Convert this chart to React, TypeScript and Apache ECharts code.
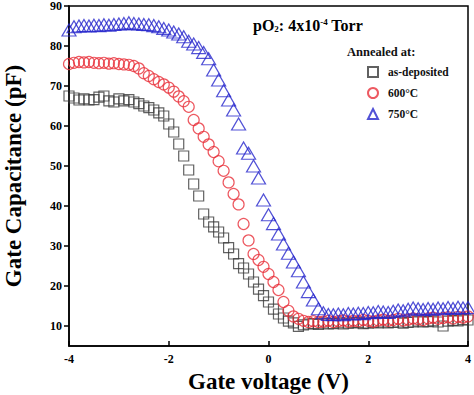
import React, { useEffect, useRef } from 'react';
import * as echarts from 'echarts';

const voltage = [
  -4.0, -3.9, -3.8, -3.7, -3.6, -3.5, -3.4, -3.3, -3.2, -3.1,
  -3.0, -2.9, -2.8, -2.7, -2.6, -2.5, -2.4, -2.3, -2.2, -2.1,
  -2.0, -1.9, -1.8, -1.7, -1.6, -1.5, -1.4, -1.3, -1.2, -1.1,
  -1.0, -0.9, -0.8, -0.7, -0.6, -0.5, -0.4, -0.3, -0.2, -0.1,
  0.0, 0.1, 0.2, 0.3, 0.4, 0.5, 0.6, 0.7, 0.8, 0.9,
  1.0, 1.1, 1.2, 1.3, 1.4, 1.5, 1.6, 1.7, 1.8, 1.9,
  2.0, 2.1, 2.2, 2.3, 2.4, 2.5, 2.6, 2.7, 2.8, 2.9,
  3.0, 3.1, 3.2, 3.3, 3.4, 3.5, 3.6, 3.7, 3.8, 3.9,
  4.0,
];

const asDeposited = [
  67.5, 67.0, 66.5, 66.8, 66.5, 66.6, 67.2, 67.5, 66.3, 66.0,
  66.8, 66.3, 66.6, 66.0, 65.6, 65.0, 64.6, 64.0, 63.3, 62.5,
  60.5, 58.5, 55.5, 52.5, 49.0, 45.5, 42.5, 38.0, 36.0, 34.8,
  33.5, 32.0, 29.6, 28.0, 25.6, 24.5, 23.0, 21.0, 19.2, 17.6,
  16.0, 14.2, 13.0, 12.0, 11.2, 10.8, 9.9, 10.3, 10.5, 10.6,
  10.4, 10.7, 10.5, 10.6, 10.8, 10.5, 10.7, 10.8, 10.9, 10.6,
  10.7, 10.9, 10.8, 11.0, 10.8, 10.9, 11.0, 10.7, 10.9, 11.0,
  11.2, 11.0, 11.1, 11.3, 11.0, 10.0, 11.2, 11.4, 11.3, 11.6,
  11.5,
];

const annealed600 = [
  75.5, 75.8, 76.0, 75.9, 76.0, 75.8, 75.7, 75.8, 75.6, 75.7,
  75.5, 75.4, 75.3, 75.0, 74.4, 73.2, 72.5, 71.7, 71.0, 70.4,
  69.6, 68.6, 67.4, 66.2, 64.8, 61.5, 59.4, 57.3, 55.4, 53.5,
  51.2, 48.8, 45.9, 43.0, 40.4, 35.5, 31.4, 28.0, 26.5, 24.8,
  23.0, 21.0, 19.0, 16.0, 13.8, 12.4, 11.8, 11.3, 11.0, 11.2,
  11.0, 11.1, 11.3, 11.0, 11.2, 11.4, 11.1, 11.3, 11.2, 11.5,
  11.3, 11.1, 11.4, 11.6, 11.3, 11.5, 11.8, 11.4, 11.6, 11.9,
  11.7, 11.5, 11.9, 12.1, 11.8, 12.0, 12.2, 11.9, 12.3, 12.1,
  12.4,
];

const annealed750 = [
  84.0, 84.8, 85.0, 85.1, 85.0, 85.2, 85.1, 85.3, 85.2, 85.4,
  85.5, 85.6, 85.8, 85.6, 85.5, 85.4, 85.3, 85.1, 84.8, 84.4,
  84.0, 83.5, 83.0, 82.3, 81.2, 80.5, 79.6, 78.4, 76.8, 74.0,
  71.5, 68.8, 66.5, 64.0, 60.5, 54.5, 53.2, 50.0, 47.0, 41.5,
  37.8, 35.6, 33.0, 30.5, 28.2, 26.0, 23.8, 21.0, 18.6, 16.5,
  14.3, 13.3, 12.9, 12.8, 13.0, 12.8, 13.1, 13.0, 13.2, 13.1,
  13.4, 13.3, 13.6, 13.5, 13.4, 13.7, 14.0, 13.8, 14.2, 14.5,
  14.3, 14.1, 14.4, 14.2, 14.5, 14.3, 14.6, 14.4, 14.7, 14.5,
  14.6,
];

const xTickValues = [-4, -2, 0, 2, 4];
const yTickValues = [10, 20, 30, 40, 50, 60, 70, 80, 90];
const seriesNames = ['as-deposited', '600°C', '750°C'];

export default function App() {
  const ref = useRef<HTMLDivElement>(null);

  useEffect(() => {
    document.body.style.margin = '0';
    const chart = echarts.init(ref.current!, null, { renderer: 'svg' });
    const font = "'Times New Roman', 'Liberation Serif', serif";
    const pair = (ys: number[]) => voltage.map((v, i) => [v, ys[i]]);

    chart.setOption({
      animation: false,
      backgroundColor: '#ffffff',
      grid: {
        left: 69,
        right: 6,
        top: 6,
        bottom: 49,
        outerBoundsMode: 'none',
        containLabel: false,
        show: true,
        borderColor: '#000',
        borderWidth: 1.5,
        backgroundColor: 'transparent',
      },
      xAxis: {
        type: 'value',
        min: -4,
        max: 4,
        interval: 2,
        name: 'Gate voltage (V)',
        nameLocation: 'middle',
        nameGap: 24,
        nameTextStyle: { fontFamily: font, fontWeight: 'bold', fontSize: 23, color: '#000' },
        axisLine: { onZero: false, lineStyle: { color: '#000', width: 1.5 } },
        axisTick: { inside: true, length: 5, lineStyle: { color: '#000', width: 1.5 } },
        axisLabel: {
          margin: 7,
          fontFamily: font,
          fontWeight: 'bold',
          fontSize: 12,
          color: '#000',
          customValues: xTickValues,
        },
        splitLine: { show: false },
      },
      yAxis: {
        type: 'value',
        min: 5,
        max: 90,
        name: 'Gate Capacitance (pF)',
        nameLocation: 'middle',
        nameGap: 44,
        nameTextStyle: { fontFamily: font, fontWeight: 'bold', fontSize: 23, color: '#000' },
        axisLine: { show: true, onZero: false, lineStyle: { color: '#000', width: 1.5 } },
        axisTick: { show: true, inside: false, length: 5, lineStyle: { color: '#000', width: 1.5 }, customValues: yTickValues },
        axisLabel: {
          margin: 7,
          fontFamily: font,
          fontWeight: 'bold',
          fontSize: 12,
          color: '#000',
          customValues: yTickValues,
        },
        splitLine: { show: false },
      },
      legend: {
        data: seriesNames,
        orient: 'vertical',
        left: 362,
        top: 61,
        itemWidth: 10,
        itemHeight: 10,
        itemGap: 9,
        textStyle: { fontFamily: font, fontWeight: 'bold', fontSize: 11.5, color: '#111', padding: [0, 0, 0, 5] },
      },
      graphic: [
        {
          type: 'text',
          left: 253,
          top: 17,
          style: {
            text: '{a|pO}{sub|2}{a|: 4x10}{sup|-4}{a| Torr}',
            rich: {
              a: { fontFamily: font, fontWeight: 'bold', fontSize: 16, fill: '#000' },
              sub: { fontFamily: font, fontWeight: 'bold', fontSize: 9, fill: '#000', verticalAlign: 'bottom' },
              sup: { fontFamily: font, fontWeight: 'bold', fontSize: 9, fill: '#000', verticalAlign: 'top' },
            },
          },
        },
        {
          type: 'text',
          left: 347,
          top: 45,
          style: {
            text: 'Annealed at:',
            fontFamily: font,
            fontWeight: 'bold',
            fontSize: 12.5,
            fill: '#111',
          },
        },
      ],
      series: [
        {
          type: 'scatter',
          name: seriesNames[0],
          data: pair(asDeposited),
          symbol: 'rect',
          symbolSize: 10,
          itemStyle: { color: 'rgba(0,0,0,0)', borderColor: '#3a3a3a', borderWidth: 1.2 },
        },
        {
          type: 'scatter',
          name: seriesNames[1],
          data: pair(annealed600),
          symbol: 'circle',
          symbolSize: 11,
          itemStyle: { color: 'rgba(0,0,0,0)', borderColor: '#e8303a', borderWidth: 1.2 },
        },
        {
          type: 'scatter',
          name: seriesNames[2],
          data: pair(annealed750),
          symbol: 'triangle',
          symbolSize: [14, 12],
          itemStyle: { color: 'rgba(0,0,0,0)', borderColor: '#2626cc', borderWidth: 1.2 },
        },
      ],
    });

    return () => chart.dispose();
  }, []);

  return <div ref={ref} style={{ width: 474, height: 395 }} />;
}
